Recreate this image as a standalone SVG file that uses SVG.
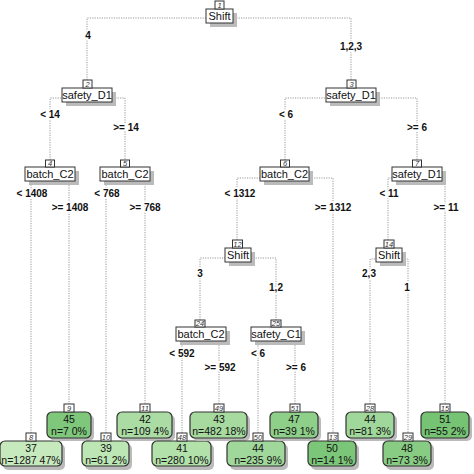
<svg xmlns="http://www.w3.org/2000/svg" width="474" height="474" viewBox="0 0 474 474">
<style>
text{font-family:"Liberation Sans",Arial,sans-serif;text-anchor:middle}
.c{fill:none;stroke:#999;stroke-width:1;stroke-dasharray:1.2,1.2}
.bl{font-size:10px;font-weight:bold;fill:#111;stroke:#fff;stroke-width:3;paint-order:stroke}
.sh{fill:#bbb}
.nb{fill:#fff;stroke:#333;stroke-width:1}
.num{font-size:7.5px;font-style:italic;fill:#333}
.lab{font-size:11px;fill:#111}
.lf{stroke:#333;stroke-width:1.2}
.lt{font-size:10.5px;fill:#111}
</style>
<g id="connectors">
<path class="c" d="M87,80V18H351V80"/>
<path class="c" d="M50,160V98H125V160"/>
<path class="c" d="M285,160V98H417V160"/>
<path class="c" d="M31,433V178H69V404"/>
<path class="c" d="M106,433V178H145V404"/>
<path class="c" d="M237,240V178H333V433"/>
<path class="c" d="M388,240V178H445V404"/>
<path class="c" d="M200,320V258H276V320"/>
<path class="c" d="M182,433V338H219V404"/>
<path class="c" d="M258,433V338H295V404"/>
<path class="c" d="M370,404V259H408V433"/>
<text class="bl" x="88" y="39">4</text>
<text class="bl" x="351" y="50">1,2,3</text>
<text class="bl" x="50" y="118">&lt; 14</text>
<text class="bl" x="126" y="131">&gt;= 14</text>
<text class="bl" x="286" y="118">&lt; 6</text>
<text class="bl" x="417" y="131">&gt;= 6</text>
<text class="bl" x="32" y="197">&lt; 1408</text>
<text class="bl" x="70" y="211">&gt;= 1408</text>
<text class="bl" x="107" y="197">&lt; 768</text>
<text class="bl" x="145" y="211">&gt;= 768</text>
<text class="bl" x="240" y="197">&lt; 1312</text>
<text class="bl" x="333" y="211">&gt;= 1312</text>
<text class="bl" x="389" y="197">&lt; 11</text>
<text class="bl" x="446" y="211">&gt;= 11</text>
<text class="bl" x="200" y="277">3</text>
<text class="bl" x="276" y="291">1,2</text>
<text class="bl" x="369" y="277">2,3</text>
<text class="bl" x="407" y="291">1</text>
<text class="bl" x="182" y="357">&lt; 592</text>
<text class="bl" x="220" y="371">&gt;= 592</text>
<text class="bl" x="258" y="357">&lt; 6</text>
<text class="bl" x="296" y="371">&gt;= 6</text>
</g>
<g id="n1"><rect class="sh" x="210" y="13" width="27" height="14"/><rect class="nb" x="206" y="9" width="27" height="14"/><rect class="nb" x="215" y="1" width="9" height="8"/><text class="num" x="219.5" y="7.5">1</text><text class="lab" x="219.5" y="20">Shift</text></g>
<g id="n2"><rect class="sh" x="66" y="92" width="50" height="14"/><rect class="nb" x="62" y="88" width="50" height="14"/><rect class="nb" x="83" y="80" width="9" height="8"/><text class="num" x="87.5" y="86.5">2</text><text class="lab" x="87" y="99">safety_D1</text></g>
<g id="n3"><rect class="sh" x="330" y="92" width="50" height="14"/><rect class="nb" x="326" y="88" width="50" height="14"/><rect class="nb" x="347" y="80" width="9" height="8"/><text class="num" x="351.5" y="86.5">3</text><text class="lab" x="351" y="99">safety_D1</text></g>
<g id="n4"><rect class="sh" x="29" y="171" width="50" height="14"/><rect class="nb" x="25" y="167" width="50" height="14"/><rect class="nb" x="45.5" y="160" width="9" height="7"/><text class="num" x="50" y="166">4</text><text class="lab" x="50" y="178">batch_C2</text></g>
<g id="n5"><rect class="sh" x="104" y="171" width="50" height="14"/><rect class="nb" x="100" y="167" width="50" height="14"/><rect class="nb" x="120.5" y="160" width="9" height="7"/><text class="num" x="125" y="166">5</text><text class="lab" x="125" y="178">batch_C2</text></g>
<g id="n6"><rect class="sh" x="264" y="171" width="49" height="14"/><rect class="nb" x="260" y="167" width="49" height="14"/><rect class="nb" x="280.5" y="160" width="9" height="7"/><text class="num" x="285" y="166">6</text><text class="lab" x="284.5" y="178">batch_C2</text></g>
<g id="n7"><rect class="sh" x="396" y="171" width="50" height="14"/><rect class="nb" x="392" y="167" width="50" height="14"/><rect class="nb" x="412.5" y="160" width="9" height="7"/><text class="num" x="417" y="166">7</text><text class="lab" x="417" y="178">safety_D1</text></g>
<g id="n12"><rect class="sh" x="229" y="252" width="26" height="14"/><rect class="nb" x="225" y="248" width="26" height="14"/><rect class="nb" x="232.5" y="240" width="10" height="8"/><text class="num" x="237.5" y="246.5">12</text><text class="lab" x="238" y="259">Shift</text></g>
<g id="n14"><rect class="sh" x="380" y="252" width="26" height="14"/><rect class="nb" x="376" y="248" width="26" height="14"/><rect class="nb" x="384" y="240" width="10" height="8"/><text class="num" x="389" y="246.5">14</text><text class="lab" x="389" y="259">Shift</text></g>
<g id="n24"><rect class="sh" x="180" y="331" width="50" height="14"/><rect class="nb" x="176" y="327" width="50" height="14"/><rect class="nb" x="195" y="320" width="10" height="7"/><text class="num" x="200" y="326">24</text><text class="lab" x="201" y="338">batch_C2</text></g>
<g id="n25"><rect class="sh" x="255" y="331" width="50" height="14"/><rect class="nb" x="251" y="327" width="50" height="14"/><rect class="nb" x="271" y="320" width="10" height="7"/><text class="num" x="276" y="326">25</text><text class="lab" x="276" y="338">safety_C1</text></g>
<g id="n8"><rect class="sh" x="3" y="444" width="62" height="26" rx="5"/><rect class="lf" x="0" y="441" width="62" height="25" rx="5" fill="#c6e9be"/><rect class="nb" x="26" y="433" width="10" height="8"/><text class="num" x="31" y="439.5">8</text><text class="lt" x="31" y="452">37</text><text class="lt" x="31" y="464">n=1287  47%</text></g>
<g id="n9"><rect class="sh" x="50" y="415" width="44" height="26" rx="5"/><rect class="lf" x="47" y="412" width="44" height="26" rx="5" fill="#7ec77b"/><rect class="nb" x="64" y="404" width="10" height="8"/><text class="num" x="69" y="410.5">9</text><text class="lt" x="69" y="423">45</text><text class="lt" x="69" y="435">n=7  0%</text></g>
<g id="n10"><rect class="sh" x="85" y="444" width="47" height="26" rx="5"/><rect class="lf" x="82" y="441" width="47" height="25" rx="5" fill="#bde6b5"/><rect class="nb" x="101" y="433" width="10" height="8"/><text class="num" x="106" y="439.5">10</text><text class="lt" x="106" y="452">39</text><text class="lt" x="106" y="464">n=61  2%</text></g>
<g id="n11"><rect class="sh" x="120" y="415" width="55" height="26" rx="5"/><rect class="lf" x="117" y="412" width="55" height="26" rx="5" fill="#abdca4"/><rect class="nb" x="140" y="404" width="10" height="8"/><text class="num" x="145" y="410.5">11</text><text class="lt" x="145" y="423">42</text><text class="lt" x="145" y="435">n=109  4%</text></g>
<g id="n48"><rect class="sh" x="155" y="444" width="59" height="26" rx="5"/><rect class="lf" x="152" y="441" width="59" height="25" rx="5" fill="#b2e1aa"/><rect class="nb" x="177" y="433" width="10" height="8"/><text class="num" x="182" y="439.5">48</text><text class="lt" x="182" y="452">41</text><text class="lt" x="182" y="464">n=280  10%</text></g>
<g id="n49"><rect class="sh" x="193" y="415" width="57" height="26" rx="5"/><rect class="lf" x="190" y="412" width="57" height="26" rx="5" fill="#a6da9f"/><rect class="nb" x="214" y="404" width="10" height="8"/><text class="num" x="219" y="410.5">49</text><text class="lt" x="219" y="423">43</text><text class="lt" x="219" y="435">n=482  18%</text></g>
<g id="n50"><rect class="sh" x="230" y="444" width="58" height="26" rx="5"/><rect class="lf" x="227" y="441" width="58" height="25" rx="5" fill="#a0d79a"/><rect class="nb" x="253" y="433" width="10" height="8"/><text class="num" x="258" y="439.5">50</text><text class="lt" x="258" y="452">44</text><text class="lt" x="258" y="464">n=235  9%</text></g>
<g id="n51"><rect class="sh" x="273" y="415" width="48" height="26" rx="5"/><rect class="lf" x="270" y="412" width="48" height="26" rx="5" fill="#8ecf89"/><rect class="nb" x="290" y="404" width="10" height="8"/><text class="num" x="295" y="410.5">51</text><text class="lt" x="294" y="423">47</text><text class="lt" x="294" y="435">n=39  1%</text></g>
<g id="n13"><rect class="sh" x="311" y="444" width="48" height="26" rx="5"/><rect class="lf" x="308" y="441" width="48" height="25" rx="5" fill="#7cc679"/><rect class="nb" x="328" y="433" width="10" height="8"/><text class="num" x="333" y="439.5">13</text><text class="lt" x="332" y="452">50</text><text class="lt" x="332" y="464">n=14  1%</text></g>
<g id="n28"><rect class="sh" x="349" y="415" width="48" height="26" rx="5"/><rect class="lf" x="346" y="412" width="48" height="26" rx="5" fill="#a0d79a"/><rect class="nb" x="365" y="404" width="10" height="8"/><text class="num" x="370" y="410.5">28</text><text class="lt" x="370" y="423">44</text><text class="lt" x="370" y="435">n=81  3%</text></g>
<g id="n29"><rect class="sh" x="386" y="444" width="48" height="26" rx="5"/><rect class="lf" x="383" y="441" width="48" height="25" rx="5" fill="#88cc84"/><rect class="nb" x="403" y="433" width="10" height="8"/><text class="num" x="408" y="439.5">29</text><text class="lt" x="407" y="452">48</text><text class="lt" x="407" y="464">n=73  3%</text></g>
<g id="n15"><rect class="sh" x="424" y="415" width="48" height="26" rx="5"/><rect class="lf" x="421" y="412" width="48" height="26" rx="5" fill="#76c373"/><rect class="nb" x="440" y="404" width="10" height="8"/><text class="num" x="445" y="410.5">15</text><text class="lt" x="445" y="423">51</text><text class="lt" x="445" y="435">n=55  2%</text></g>
</svg>
